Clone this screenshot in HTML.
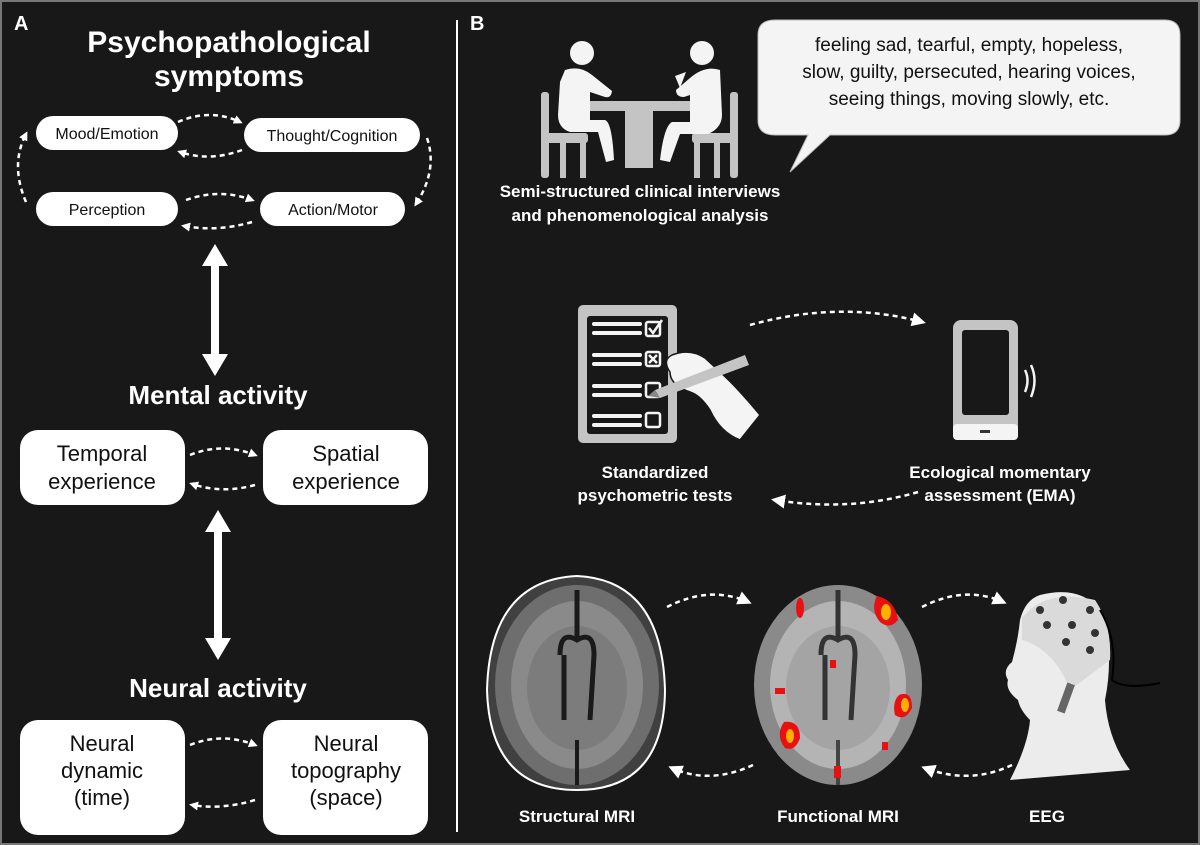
<!DOCTYPE html>
<html><head><meta charset="utf-8"><style>
html,body{margin:0;padding:0;background:#181818}
svg{display:block}
text{font-family:"Liberation Sans",sans-serif;fill:#fff}
</style></head><body>
<svg width="1200" height="845" viewBox="0 0 1200 845" xmlns="http://www.w3.org/2000/svg">
<defs>
<marker id="ah" markerWidth="9" markerHeight="9" refX="6" refY="4.5" orient="auto" markerUnits="userSpaceOnUse"><path d="M0,0 L9,4.5 L0,9 z" fill="#fff"/></marker>
<marker id="ah2" markerWidth="14" markerHeight="14" refX="10" refY="7" orient="auto" markerUnits="userSpaceOnUse"><path d="M0,0 L14,7 L0,14 z" fill="#fff"/></marker>
</defs>
<rect x="0" y="0" width="1200" height="845" fill="#181818"/>
<rect x="1" y="1" width="1198" height="843" fill="none" stroke="#777" stroke-width="2"/>
<line x1="457" y1="20" x2="457" y2="832" stroke="#fff" stroke-width="2"/>
<text x="14" y="30" font-size="20" font-weight="bold">A</text>
<text x="470" y="30" font-size="20" font-weight="bold">B</text>

<!-- Panel A -->
<text x="229" y="52" font-size="30" font-weight="bold" text-anchor="middle">Psychopathological</text>
<text x="229" y="86" font-size="30" font-weight="bold" text-anchor="middle">symptoms</text>
<g fill="#fff">
<rect x="36" y="116" width="142" height="34" rx="17"/>
<rect x="244" y="118" width="176" height="34" rx="17"/>
<rect x="36" y="192" width="142" height="34" rx="17"/>
<rect x="260" y="192" width="145" height="34" rx="17"/>
</g>
<g font-size="16" text-anchor="middle">
<text x="107" y="139" style="fill:#111">Mood/Emotion</text>
<text x="332" y="141" style="fill:#111">Thought/Cognition</text>
<text x="107" y="215" style="fill:#111">Perception</text>
<text x="333" y="215" style="fill:#111">Action/Motor</text>
</g>
<g fill="none" stroke="#fff" stroke-width="2.5" stroke-dasharray="5,4">
<path d="M178,122 Q210,108 240,122" marker-end="url(#ah)"/>
<path d="M242,150 Q210,162 180,152" marker-end="url(#ah)"/>
<path d="M26,202 Q10,165 26,134" marker-end="url(#ah)"/>
<path d="M427,138 Q438,170 416,204" marker-end="url(#ah)"/>
<path d="M186,200 Q220,188 252,200" marker-end="url(#ah)"/>
<path d="M252,222 Q218,232 184,226" marker-end="url(#ah)"/>
</g>
<g fill="#fff">
<path d="M215,244 L202,266 L211,266 L211,354 L202,354 L215,376 L228,354 L219,354 L219,266 L228,266 z"/>
<path d="M218,510 L205,532 L214,532 L214,638 L205,638 L218,660 L231,638 L222,638 L222,532 L231,532 z"/>
</g>
<text x="218" y="404" font-size="26" font-weight="bold" text-anchor="middle">Mental activity</text>
<rect x="20" y="430" width="165" height="75" rx="18" fill="#fff"/>
<rect x="263" y="430" width="165" height="75" rx="18" fill="#fff"/>
<g font-size="22" text-anchor="middle">
<text x="102" y="461" style="fill:#111">Temporal</text>
<text x="102" y="489" style="fill:#111">experience</text>
<text x="346" y="461" style="fill:#111">Spatial</text>
<text x="346" y="489" style="fill:#111">experience</text>
</g>
<g fill="none" stroke="#fff" stroke-width="2.5" stroke-dasharray="5,4">
<path d="M190,455 Q222,442 255,455" marker-end="url(#ah)"/>
<path d="M255,485 Q222,494 192,484" marker-end="url(#ah)"/>
</g>
<text x="218" y="697" font-size="26" font-weight="bold" text-anchor="middle">Neural activity</text>
<rect x="20" y="720" width="165" height="115" rx="18" fill="#fff"/>
<rect x="263" y="720" width="165" height="115" rx="18" fill="#fff"/>
<g font-size="22" text-anchor="middle">
<text x="102" y="751" style="fill:#111">Neural</text>
<text x="102" y="778" style="fill:#111">dynamic</text>
<text x="102" y="805" style="fill:#111">(time)</text>
<text x="346" y="751" style="fill:#111">Neural</text>
<text x="346" y="778" style="fill:#111">topography</text>
<text x="346" y="805" style="fill:#111">(space)</text>
</g>
<g fill="none" stroke="#fff" stroke-width="2.5" stroke-dasharray="5,4">
<path d="M190,745 Q222,732 255,745" marker-end="url(#ah)"/>
<path d="M255,800 Q222,810 192,805" marker-end="url(#ah)"/>
</g>

<!-- Interview icon -->
<g fill="#c4c4c4">
<rect x="541" y="92" width="8" height="86" rx="3"/>
<rect x="546" y="133" width="42" height="10" rx="3"/>
<rect x="560" y="140" width="6" height="38"/>
<rect x="580" y="140" width="6" height="38"/>
<rect x="730" y="92" width="8" height="86" rx="3"/>
<rect x="692" y="133" width="42" height="10" rx="3"/>
<rect x="694" y="140" width="6" height="38"/>
<rect x="714" y="140" width="6" height="38"/>
<rect x="580" y="101" width="118" height="10" rx="5"/>
<rect x="625" y="105" width="28" height="63"/>
</g>
<g fill="#f4f4f4">
<circle cx="582" cy="53" r="12"/>
<path d="M565,70 Q580,65 592,75 L612,91 Q611,100 602,96 L590,92 L590,120 L605,120 Q612,122 614,160 L606,162 L598,132 L570,132 Q558,128 558,115 L560,82 z"/>
<circle cx="702" cy="53" r="12"/>
<path d="M720,70 Q705,65 690,78 L676,90 Q676,97 684,97 L690,95 L690,122 L672,122 Q664,126 660,160 L670,162 L680,134 L708,134 Q722,128 722,115 z"/>
<path d="M675,76 L686,72 L680,88 z"/>
</g>
<text x="640" y="197" font-size="17" font-weight="bold" text-anchor="middle">Semi-structured clinical interviews</text>
<text x="640" y="221" font-size="17" font-weight="bold" text-anchor="middle">and phenomenological analysis</text>

<path d="M775,20 L1165,20 Q1180,20 1180,35 L1180,120 Q1180,135 1165,135 L830,135 L790,172 L808,135 L775,135 Q758,135 758,120 L758,35 Q758,20 775,20 z" fill="#f4f4f4" stroke="#bbb" stroke-width="1"/>
<g font-size="19" text-anchor="middle">
<text x="969" y="51" style="fill:#111">feeling sad, tearful, empty, hopeless,</text>
<text x="969" y="78" style="fill:#111">slow, guilty, persecuted, hearing voices,</text>
<text x="969" y="105" style="fill:#111">seeing things, moving slowly, etc.</text>
</g>

<!-- clipboard -->
<rect x="578" y="305" width="99" height="138" rx="5" fill="#c4c4c4"/>
<rect x="587" y="316" width="81" height="118" rx="3" fill="#181818"/>
<g fill="#f4f4f4">
<rect x="592" y="322" width="50" height="4" rx="2"/><rect x="592" y="331" width="50" height="4" rx="2"/>
<rect x="592" y="353" width="50" height="4" rx="2"/><rect x="592" y="362" width="50" height="4" rx="2"/>
<rect x="592" y="384" width="50" height="4" rx="2"/><rect x="592" y="393" width="50" height="4" rx="2"/>
<rect x="592" y="414" width="50" height="4" rx="2"/><rect x="592" y="423" width="50" height="4" rx="2"/>
</g>
<g fill="none" stroke="#f4f4f4" stroke-width="2.5">
<rect x="646" y="322" width="14" height="14" rx="2"/>
<rect x="646" y="352" width="14" height="14" rx="2"/>
<rect x="646" y="383" width="14" height="14" rx="2"/>
<rect x="646" y="413" width="14" height="14" rx="2"/>
<path d="M649,328 L653,333 L662,320"/>
<path d="M649,355 L657,363 M657,355 L649,363"/>
</g>
<path d="M672,355 Q690,348 705,358 L720,372 Q735,385 760,415 L740,440 Q720,432 710,410 Q700,395 690,392 Q670,385 670,372 Q662,360 672,355 z" fill="#f4f4f4" stroke="#181818" stroke-width="1.5"/>
<path d="M655,390 L745,355 L749,365 L660,398 z" fill="#c4c4c4"/>
<path d="M655,390 L648,396 L660,398 z" fill="#888"/>
<!-- phone -->
<rect x="953" y="320" width="65" height="120" rx="8" fill="#c4c4c4"/>
<rect x="962" y="330" width="47" height="85" rx="3" fill="#181818"/>
<rect x="953" y="424" width="65" height="16" rx="4" fill="#f4f4f4"/>
<rect x="980" y="430" width="10" height="3" fill="#333"/>
<g fill="none" stroke="#f4f4f4" stroke-width="2.5"><path d="M1025,370 Q1030,380 1025,392"/><path d="M1031,365 Q1038,380 1031,397"/></g>
<text x="655" y="478" font-size="17" font-weight="bold" text-anchor="middle">Standardized</text>
<text x="655" y="501" font-size="17" font-weight="bold" text-anchor="middle">psychometric tests</text>
<text x="1000" y="478" font-size="17" font-weight="bold" text-anchor="middle">Ecological momentary</text>
<text x="1000" y="501" font-size="17" font-weight="bold" text-anchor="middle">assessment (EMA)</text>
<g fill="none" stroke="#fff" stroke-width="2.5" stroke-dasharray="5,4">
<path d="M750,325 Q840,300 922,322" marker-end="url(#ah2)"/>
<path d="M918,492 Q850,512 775,500" marker-end="url(#ah2)"/>
<path d="M667,607 Q710,585 748,602" marker-end="url(#ah2)"/>
<path d="M753,765 Q710,785 672,768" marker-end="url(#ah2)"/>
<path d="M922,607 Q965,585 1003,602" marker-end="url(#ah2)"/>
<path d="M1012,765 Q970,785 925,768" marker-end="url(#ah2)"/>
</g>

<!-- structural MRI -->
<path d="M577,576 Q490,580 487,690 Q490,790 577,790 Q664,790 665,690 Q662,580 577,576 z" fill="#404040" stroke="#fff" stroke-width="2"/>
<ellipse cx="577" cy="685" rx="82" ry="100" fill="#6e6e6e"/>
<ellipse cx="577" cy="685" rx="66" ry="84" fill="#8a8a8a"/>
<ellipse cx="577" cy="688" rx="50" ry="62" fill="#7c7c7c"/>
<path d="M577,590 L577,640 M560,655 Q560,630 577,640 Q594,630 594,655 L590,720 M564,655 L564,720" stroke="#1a1a1a" stroke-width="5" fill="none"/>
<path d="M577,740 L577,785" stroke="#1a1a1a" stroke-width="4"/>
<!-- functional MRI -->
<ellipse cx="838" cy="685" rx="84" ry="100" fill="#8a8a8a"/>
<ellipse cx="838" cy="685" rx="68" ry="84" fill="#b4b4b4"/>
<ellipse cx="838" cy="688" rx="52" ry="62" fill="#a4a4a4"/>
<path d="M838,590 L838,640 M821,655 Q821,630 838,640 Q855,630 855,655 L851,720 M825,655 L825,720" stroke="#333" stroke-width="5" fill="none"/>
<path d="M838,740 L838,785" stroke="#444" stroke-width="4"/>
<g fill="#e81010">
<path d="M877,596 Q895,600 898,620 Q890,630 880,622 Q870,610 877,596 z"/>
<path d="M899,695 Q912,690 912,708 Q905,722 895,715 Q892,702 899,695 z"/>
<path d="M784,722 Q800,720 800,738 Q795,752 785,748 Q775,735 784,722 z"/>
<ellipse cx="800" cy="608" rx="4" ry="10"/>
<rect x="775" y="688" width="10" height="6"/>
<rect x="830" y="660" width="6" height="8"/>
<rect x="882" y="742" width="6" height="8"/>
<rect x="834" y="766" width="7" height="12"/>
</g>
<g fill="#ffb000"><ellipse cx="886" cy="612" rx="5" ry="8"/><ellipse cx="905" cy="705" rx="4" ry="7"/><ellipse cx="790" cy="736" rx="4" ry="7"/></g>
<!-- EEG head -->
<path d="M1040,595 Q1080,585 1100,610 Q1115,650 1105,700 Q1108,740 1130,770 L1010,780 Q1028,745 1030,720 Q1020,710 1018,700 Q1005,690 1008,680 Q1002,670 1012,662 Q1018,640 1020,620 Q1025,600 1040,595 z" fill="#ececec"/>
<path d="M1022,618 Q1045,588 1095,600 Q1112,625 1110,660 L1070,690 Q1055,650 1022,640 z" fill="#dadada"/>
<rect x="1062" y="683" width="8" height="30" fill="#666" transform="rotate(20 1066 698)"/>
<g fill="#333"><circle cx="1040" cy="610" r="4"/><circle cx="1063" cy="600" r="4"/><circle cx="1090" cy="610" r="4"/><circle cx="1047" cy="625" r="4"/><circle cx="1072" cy="625" r="4"/><circle cx="1066" cy="642" r="4"/><circle cx="1095" cy="633" r="4"/><circle cx="1090" cy="650" r="4"/></g>
<path d="M1100,610 Q1118,640 1112,680 Q1125,690 1160,683" stroke="#000" stroke-width="2" fill="none"/>
<text x="577" y="822" font-size="17" font-weight="bold" text-anchor="middle">Structural MRI</text>
<text x="838" y="822" font-size="17" font-weight="bold" text-anchor="middle">Functional MRI</text>
<text x="1047" y="822" font-size="17" font-weight="bold" text-anchor="middle">EEG</text>
</svg>
</body></html>
